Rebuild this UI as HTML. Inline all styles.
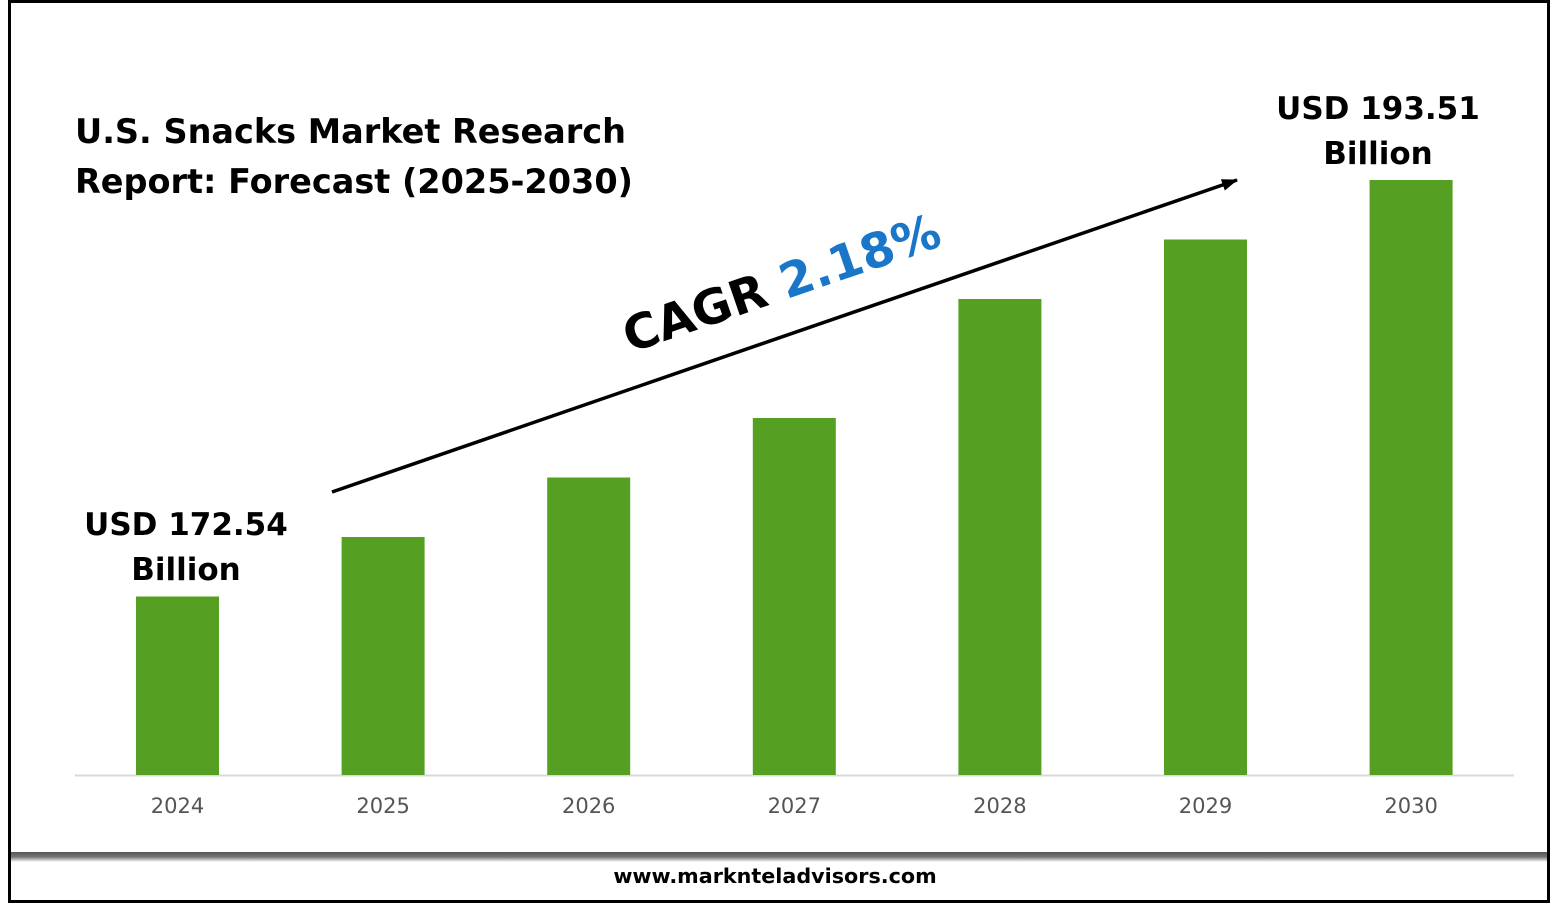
<!DOCTYPE html>
<html><head><meta charset="utf-8"><style>
body{margin:0;width:1557px;height:905px;background:#fff;overflow:hidden;font-family:"DejaVu Sans","Liberation Sans",sans-serif;}
</style></head><body>
<svg width="1557" height="905">
<defs><linearGradient id="sh" x1="0" y1="0" x2="0" y2="1"><stop offset="0" stop-color="#555"/><stop offset="0.5" stop-color="#777"/><stop offset="1" stop-color="#fff"/></linearGradient>
<marker id="ah" markerUnits="userSpaceOnUse" markerWidth="16" markerHeight="12" refX="15" refY="6" orient="auto"><path d="M0,0 L16,6 L0,12 z" fill="#000"/></marker></defs>
<rect x="9.5" y="1.5" width="1539" height="900" fill="none" stroke="#000" stroke-width="3"/>
<rect x="11" y="852" width="1536" height="10" fill="url(#sh)"/>
<text x="775" y="883" text-anchor="middle" font-weight="bold" font-size="20.7" fill="#000">www.marknteladvisors.com</text>
<text x="75" y="143" font-weight="bold" font-size="33.5" fill="#000">U.S. Snacks Market Research</text>
<text x="75" y="193" font-weight="bold" font-size="33.5" fill="#000">Report: Forecast (2025-2030)</text>
<line x1="75" y1="775.5" x2="1514" y2="775.5" stroke="#d9d9d9" stroke-width="2"/>
<g id="bars"></g><g id="labels"></g>
<line x1="332" y1="492" x2="1237" y2="180" stroke="#000" stroke-width="3.5" marker-end="url(#ah)"/>
<text transform="translate(630,353) rotate(-19)" font-weight="bold" font-size="48"><tspan fill="#000">CAGR </tspan><tspan fill="#1976c8">2.18%</tspan></text>
<text x="186" y="535" text-anchor="middle" font-weight="bold" font-size="31">USD 172.54</text>
<text x="186" y="580" text-anchor="middle" font-weight="bold" font-size="31">Billion</text>
<text x="1378" y="119" text-anchor="middle" font-weight="bold" font-size="31">USD 193.51</text>
<text x="1378" y="164" text-anchor="middle" font-weight="bold" font-size="31">Billion</text>
</svg>
<script>
const categories=["2024","2025","2026","2027","2028","2029","2030"];
const values=[30,40,50,60,80,90,100];
const NS="http://www.w3.org/2000/svg";
const x0=75,step=205.6,bw=83,base=775,h100=595;
function xs(i){return x0+61+i*step;}
function ys(v){return base-v/100*h100;}
const bars=document.getElementById('bars'),labels=document.getElementById('labels');
categories.forEach((c,i)=>{
 const r=document.createElementNS(NS,'rect');
 r.setAttribute('x',xs(i));r.setAttribute('y',ys(values[i]));r.setAttribute('width',bw);r.setAttribute('height',base-ys(values[i]));r.setAttribute('fill','#55a022');
 
 
 bars.appendChild(r);
 const t=document.createElementNS(NS,'text');
 t.setAttribute('x',xs(i)+bw/2);t.setAttribute('y',813);t.setAttribute('text-anchor','middle');t.setAttribute('font-size','21');t.setAttribute('fill','#555');t.textContent=c;
 
 
 labels.appendChild(t);
});
</script>
</body></html>
